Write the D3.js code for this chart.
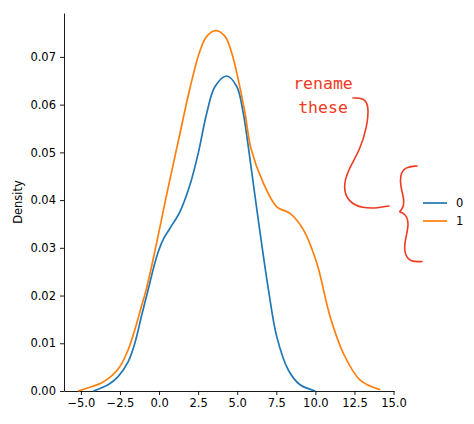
<!DOCTYPE html>
<html>
<head>
<meta charset="utf-8">
<script src="https://cdn.jsdelivr.net/npm/d3@7"></script>
<style>
  body { margin: 0; background: #fff; }
  #chart { width: 474px; height: 424px; }
</style>
</head>
<body>
<div id="chart"></div>
<script>
// KDE curves
const legendLabels = ["0", "1"];
const seriesColors = ["#1f77b4", "#ff7f0e"];

const x0 = [-4.2, -3.26, -2.62, -1.98, -1.55, -1.13, -0.7, -0.35, -0.04, 0.3, 0.7, 1.34, 1.98, 2.52, 3.05, 3.58, 4.33, 4.97, 5.39, 5.71, 6.35, 7.0, 7.53, 8.27, 9.02, 10.0];
const y0 = [0, 0.0013, 0.003, 0.0061, 0.01, 0.0156, 0.0212, 0.0258, 0.0293, 0.032, 0.0341, 0.0376, 0.0432, 0.0500, 0.0582, 0.0638, 0.066, 0.0638, 0.0582, 0.0512, 0.0358, 0.0212, 0.0114, 0.0044, 0.0013, 0];

const x1 = [-5.18, -4.33, -3.69, -3.05, -2.51, -1.98, -1.55, -1.13, -0.81, -0.47, 0.06, 0.49, 0.92, 1.34, 1.98, 2.62, 3.05, 3.63, 4.22, 4.65, 5.07, 5.5, 5.88, 6.68, 7.53, 8.38, 9.23, 10.09, 10.94, 11.79, 12.86, 14.14];
const y1 = [0, 0.0009, 0.0017, 0.0031, 0.0051, 0.0086, 0.0128, 0.0177, 0.0214, 0.0262, 0.0344, 0.0412, 0.0477, 0.054, 0.0635, 0.0713, 0.0743, 0.0755, 0.0743, 0.0708, 0.0652, 0.0582, 0.0508, 0.0435, 0.0386, 0.0372, 0.0338, 0.0268, 0.0156, 0.0079, 0.0023, 0.0003];

const xTicks = [-5, -2.5, 0, 2.5, 5, 7.5, 10, 12.5, 15];
const yTicks = [0, 0.01, 0.02, 0.03, 0.04, 0.05, 0.06, 0.07];

(() => {
    const W = 474, H = 424;
    const sans = "DejaVu Sans, sans-serif";
    const svg = d3.select("#chart").append("svg").attr("width", W).attr("height", H);
    svg.append("rect").attr("width", W).attr("height", H).attr("fill", "#fff");

    const x = d3.scaleLinear().domain([-6.08, 15.03]).range([64, 394]);
    const y = d3.scaleLinear().domain([0, 0.0792]).range([391, 13]);

    const fmtMinus = s => s.replace("-", "\u2212");

    const xAxis = svg.append("g").attr("transform", `translate(0,${y(0)})`)
        .call(d3.axisBottom(x).tickValues(xTicks).tickSize(4).tickSizeOuter(0).tickPadding(4)
            .tickFormat(d => fmtMinus(d3.format(".1f")(d))));
    const yAxis = svg.append("g").attr("transform", `translate(${x.range()[0]},0)`)
        .call(d3.axisLeft(y).tickValues(yTicks).tickSize(4).tickSizeOuter(0).tickPadding(4)
            .tickFormat(d3.format(".2f")));

    [xAxis, yAxis].forEach(g => {
        g.selectAll("path, line").attr("stroke", "#000").attr("stroke-width", 0.9);
        g.selectAll("text").attr("fill", "#000")
            .style("font-family", sans).style("font-size", "11.5px");
    });

    svg.append("text")
        .attr("transform", `translate(22,${(y.range()[0] + y.range()[1]) / 2}) rotate(-90)`)
        .attr("text-anchor", "middle")
        .style("font-family", sans).style("font-size", "11.5px")
        .text("Density");

    const line = d3.line().x(d => x(d[0])).y(d => y(d[1])).curve(d3.curveCatmullRom.alpha(0.5));
    const series = [d3.zip(x0, y0), d3.zip(x1, y1)];

    svg.selectAll("path.kde")
        .data(series)
        .join("path")
        .attr("class", "kde")
        .attr("d", line)
        .attr("fill", "none")
        .attr("stroke", (d, i) => seriesColors[i])
        .attr("stroke-width", 1.7);

    // Legend
    const legend = svg.append("g").attr("transform", "translate(423,203)");
    legend.selectAll("g").data(legendLabels).join("g")
        .attr("transform", (d, i) => `translate(0,${i * 18})`)
        .call(g => {
            g.append("line").attr("x1", 0).attr("x2", 24).attr("y1", 0).attr("y2", 0)
                .attr("stroke", (d, i) => seriesColors[i]).attr("stroke-width", 1.7);
            g.append("text").attr("x", 33).attr("y", 4)
                .style("font-family", sans).style("font-size", "11.5px").text(d => d);
        });

    // Hand-drawn annotation
    const red = "#f03a22";
    const note = svg.append("g").attr("fill", red).attr("text-anchor", "middle")
        .style("font-family", "'DejaVu Sans Mono', monospace").style("font-size", "16.5px");
    note.append("text").attr("x", 323).attr("y", 89).text("rename");
    note.append("text").attr("x", 323).attr("y", 113).text("these");

    const pen = d3.line().curve(d3.curveBasis);
    const squiggle = [[353, 98], [364, 98], [369, 106], [367, 127], [360, 150], [348, 170], [343, 187], [348, 202], [363, 208.5], [378, 208], [389, 206]];
    const brace = [[417, 166], [405, 167], [400, 175], [400.5, 187], [405, 202], [402, 210], [398, 212], [405, 213], [409.5, 223], [405, 240], [404, 253], [410, 262], [422, 261.5]];
    [squiggle, brace].forEach(p => {
        svg.append("path").attr("d", pen(p)).attr("fill", "none")
            .attr("stroke", red).attr("stroke-width", 1.6).attr("stroke-linecap", "round");
    });
})();
</script>
</body>
</html>
